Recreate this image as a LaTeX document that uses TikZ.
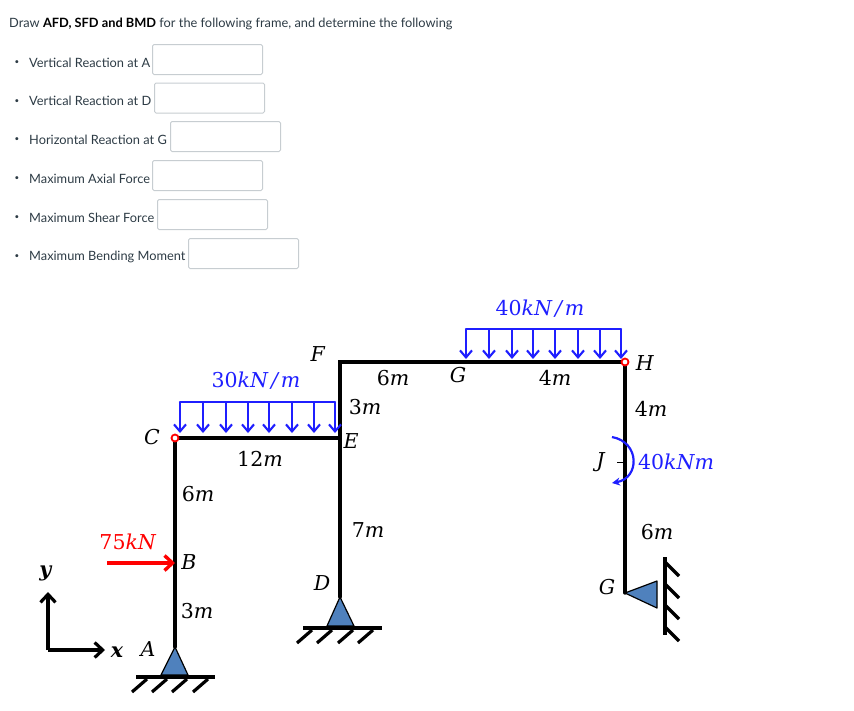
\documentclass[tikz,border=0pt]{standalone}
\usepackage{amsmath}
\usepackage{xcolor}
\usepackage{fontspec}
\setmainfont{Lato}
\newfontfamily\lblfont{DejaVu Serif}
\usetikzlibrary{arrows.meta,calc,positioning}
\definecolor{txtgray}{HTML}{2D3B45}
\definecolor{boxgray}{HTML}{C7CDD1}
\definecolor{loadblue}{HTML}{1F1FFF}
\definecolor{suppblue}{HTML}{4F81BD}
\newcommand{\um}[1]{#1\textit{m}}
\tikzset{%
	question/.style = {anchor=west, inner sep=0pt, text=txtgray, font=\fontsize{12.8}{16}\selectfont},
	answerbox/.style = {draw=boxgray, line width=1pt, rounded corners=1.5pt, fill=white},
	lbl/.style      = {inner sep=0pt, font=\lblfont\fontsize{20.5}{25}\selectfont},
	member/.style   = {line width=3.4pt, line cap=round},
	load/.style     = {line width=2.1pt, draw=loadblue, -{Straight Barb[length=7pt,width=12pt]}},
	loadtop/.style  = {line width=2.1pt, draw=loadblue, line cap=round},
	hinge/.style    = {circle, draw=red, fill=white, line width=1.8pt, minimum size=7pt, inner sep=0pt},
	support/.style  = {draw=black, fill=suppblue, line width=1.2pt, line join=round},
	ground/.style   = {line width=3.2pt},
	axis/.style     = {line width=3.2pt, -{Straight Barb[length=8pt,width=15pt]}},
}
\begin{document}
\begin{tikzpicture}[x=1pt,y=-1pt]
	\useasboundingbox (0,0) rectangle (854,710);
	
	\node[question,text=txtgray] (title) at (9,23.5) {Draw \textbf{\textcolor{black}{AFD, SFD and BMD}} for the following frame, and determine the following};
	
	\foreach \y/\txt/\xa/\xb/\name in {59.5/Vertical Reaction at A/152.5/262.5/qa, 98/Vertical Reaction at D/154.5/264.5/qd, 136.5/Horizontal Reaction at G/170.5/280.5/qg, 175.5/Maximum Axial Force/152.5/262.5/qaf, 214.5/Maximum Shear Force/157.5/267.5/qsf, 253.5/Maximum Bending Moment/188.5/298.5/qbm} {
		\node[question] (\name) at (29,\y+3) {\txt};
		\node[question,font=\fontsize{8}{8}\selectfont] (\name dot) at (14.5,\y+3.5) {\textbullet};
		\draw[answerbox] (\xa,\y-15) rectangle (\xb,\y+15);
	}
	
	% frame points
	\coordinate (A) at (175,647);
	\coordinate (B) at (175,563);
	\coordinate (C) at (175,438);
	\coordinate (D) at (340,597);
	\coordinate (E) at (340,438);
	\coordinate (F) at (340,362);
	\coordinate (H) at (625,362);
	\coordinate (J) at (625,462);
	\coordinate (G) at (625,593);
	
	% frame
	\draw[member] (A) -- (C) -- (E);
	\draw[member] (D) -- (F) -- (H) -- (G);
	
	% loads
	\draw[loadtop] (466,329) -- (621,329);
	\foreach \x in {466,489,512,533,555,578,600,621}
		\draw[load] (\x,329) -- (\x,359);
	\draw[loadtop] (180,402) -- (335,402);
	\foreach \x in {180,203,226,248,269,292,314,335}
		\draw[load] (\x,402) -- (\x,433);
	
	\node[hinge] (hingeC) at (C) {};
	\node[hinge] (hingeH) at (H) {};
	
	\node[lbl,text=loadblue] (qtop) at (540,309) {40\textit{kN\kern3pt/\kern3pt m}};
	\node[lbl,text=loadblue] (qleft) at (256,381) {30\textit{kN\kern3pt/\kern3pt m}};
	
	% point load
	\coordinate (Ptail) at (107,563);
	\draw[line width=3.4pt,red,-{Straight Barb[length=8pt,width=15pt]}] (Ptail) -- (B);
	\node[lbl,text=red] (Plabel) at (128,541.5) {75\textit{kN}};
	
	% moment at J
	\coordinate (Jtick) at (617,462);
	\draw[line width=1pt] (Jtick) -- (J);
	\draw[line width=2.2pt,loadblue,-{Stealth[length=8pt,width=8pt]}] (612,437) .. controls (640,442) and (640,478) .. (612,483);
	\node[lbl,text=loadblue] (Mlabel) at (676,462) {40\textit{kNm}};
	
	% supports
	\draw[support] (A) -- (161,675) -- (188,675) -- cycle;
	\draw[ground] (136,677) -- (215,677);
	\foreach \x in {147,167,187,208}
		\draw[ground] (\x,679) -- (\x-15,692);
	\draw[support] (D) -- (327,626) -- (354,626) -- cycle;
	\draw[ground] (303,628) -- (382,628);
	\foreach \x in {312,332,353,373}
		\draw[ground] (\x,630) -- (\x-15,643);
	\draw[support] (G) -- (657,581) -- (657,608) -- cycle;
	\draw[ground] (665,557) -- (665,635);
	\foreach \y in {562,584,605,627}
		\draw[ground] (665,\y) -- (679,\y+14);
	
	% axes
	\coordinate (O) at (48,650);
	\coordinate (ytip) at (48,592);
	\coordinate (xtip) at (105,650);
	\draw[axis] (O) -- (ytip);
	\draw[axis] (O) -- (xtip);
	\node[lbl] (ylabel) at (46,573) {\textbf{\textit{y}}};
	\node[lbl] (xlabel) at (117,652) {\textbf{\textit{x}}};
	
	% labels
	\node[lbl] (lA) at (148,649) {\textit{A}};
	\node[lbl] (lB) at (189,562) {\textit{B}};
	\node[lbl] (lC) at (152,437) {\textit{C}};
	\node[lbl] (lD) at (322,583) {\textit{D}};
	\node[lbl] (lE) at (351,441) {\textit{E}};
	\node[lbl] (lF) at (318,354) {\textit{F}};
	\node[lbl] (lG) at (458,375) {\textit{G}};
	\node[lbl] (lH) at (645,363) {\textit{H}};
	\node[lbl] (lJ) at (601,462) {\textit{J}};
	\node[lbl] (lGs) at (607,587) {\textit{G}};
	
	\node[lbl] (d12) at (260,459) {\um{12}};
	\node[lbl] (d6a) at (198,494) {\um{6}};
	\node[lbl] (d3a) at (197,611) {\um{3}};
	\node[lbl] (d7) at (368,530) {\um{7}};
	\node[lbl] (d3b) at (365,407) {\um{3}};
	\node[lbl] (d6b) at (393,378) {\um{6}};
	\node[lbl] (d4a) at (555,378) {\um{4}};
	\node[lbl] (d4b) at (651,409) {\um{4}};
	\node[lbl] (d6c) at (657,532) {\um{6}};
	
\end{tikzpicture}
\end{document}
